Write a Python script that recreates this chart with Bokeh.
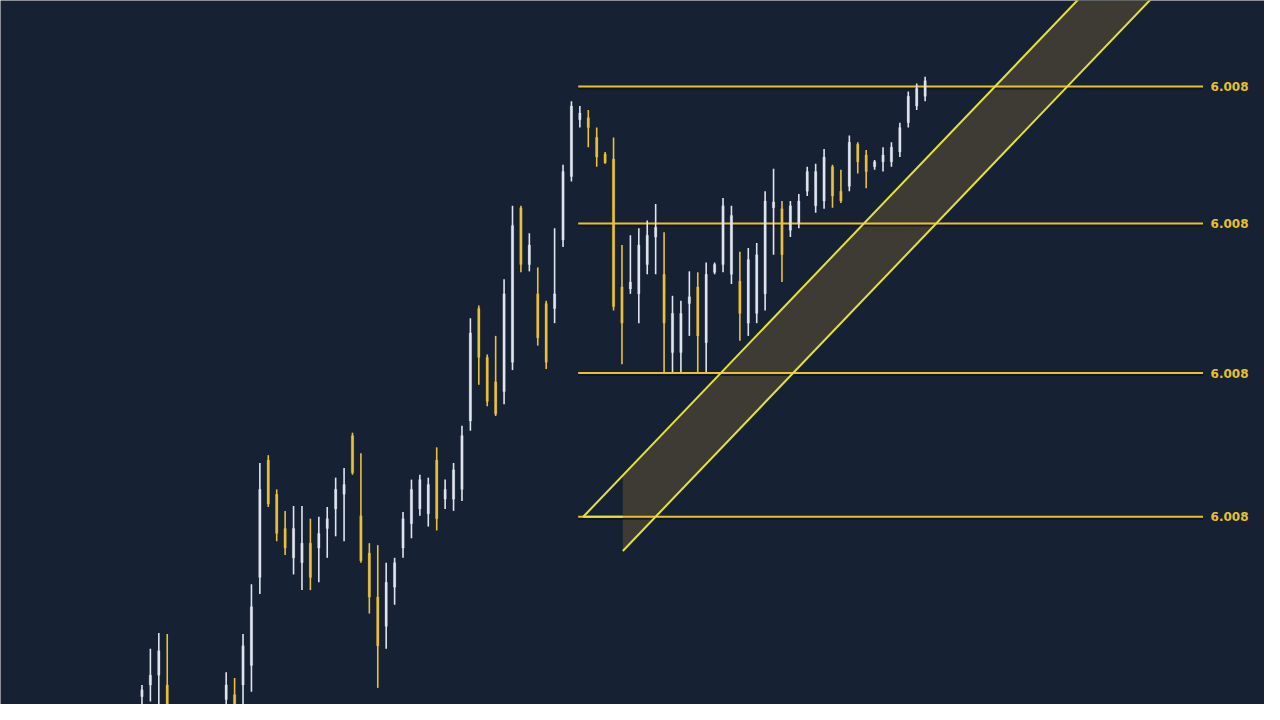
from bokeh.plotting import figure
from bokeh.models import Range1d, ColumnDataSource
from bokeh.embed import file_html
from bokeh.resources import INLINE
from bokeh.core.properties import value

# ---- data (price units, candle index = position in list) ----
opens = [0.88, 1.00, 1.10, 1.00, 0.60, 0.10, 0.45, 0.15, 0.30, 0.40,
         0.85, 0.90, 1.00, 1.20, 2.10, 3.30, 2.95, 2.60, 2.30, 2.25,
         2.45, 2.40, 2.60, 2.80, 2.95, 3.55, 2.73, 2.35, 1.90, 1.60,
         2.00, 2.40, 2.65, 2.80, 2.75, 3.30, 2.90, 2.90, 3.00, 3.70,
         4.85, 4.35, 4.10, 4.00, 4.30, 5.88, 5.30, 5.00, 4.90, 4.85,
         5.55, 6.20, 6.78, 6.80, 6.60, 6.43, 6.38, 5.07, 5.05, 5.00,
         5.30, 5.58, 5.20, 4.40, 4.40, 4.90, 5.07, 4.50, 5.22, 5.30,
         5.20, 5.13, 4.70, 4.80, 5.00, 5.88, 5.87, 5.65, 5.72, 6.05,
         5.90, 5.95, 6.30, 6.05, 6.10, 6.53, 6.42, 6.30, 6.35, 6.35,
         6.45, 6.75, 6.92, 7.02]
highs = [1.00, 1.37, 1.53, 1.52, 0.65, 0.55, 0.50, 0.60, 0.70, 0.75,
         1.13, 1.07, 1.52, 2.03, 3.27, 3.35, 3.00, 2.78, 2.83, 2.83,
         2.70, 2.72, 2.82, 3.12, 3.22, 3.58, 3.37, 2.45, 2.43, 2.25,
         2.30, 2.77, 3.10, 3.15, 3.12, 3.43, 3.10, 3.27, 3.65, 4.75,
         4.88, 4.38, 4.57, 5.15, 5.90, 5.90, 5.62, 5.27, 4.93, 5.67,
         6.32, 6.97, 6.92, 6.88, 6.70, 6.45, 6.60, 5.50, 5.60, 5.67,
         5.75, 5.92, 5.63, 4.98, 4.93, 5.23, 5.22, 5.32, 5.32, 5.98,
         5.90, 5.43, 5.47, 5.52, 6.05, 6.28, 5.95, 5.95, 6.02, 6.30,
         6.33, 6.48, 6.32, 6.27, 6.62, 6.55, 6.47, 6.37, 6.50, 6.55,
         6.75, 7.07, 7.15, 7.22]
lows = [0.75, 0.83, 0.75, 0.70, 0.10, 0.05, 0.05, 0.08, 0.20, 0.30,
        0.75, 0.75, 0.75, 0.93, 1.93, 2.82, 2.47, 2.33, 2.13, 1.97,
        1.97, 2.05, 2.30, 2.52, 2.47, 3.15, 2.25, 1.73, 0.97, 1.37,
        1.82, 2.30, 2.50, 2.73, 2.62, 2.58, 2.80, 2.78, 2.88, 3.60,
        4.07, 3.85, 3.75, 3.87, 4.22, 5.22, 5.23, 4.47, 4.23, 4.70,
        5.48, 6.15, 6.70, 6.50, 6.30, 6.33, 4.83, 4.28, 5.00, 4.70,
        5.20, 5.20, 4.20, 4.20, 4.20, 4.57, 4.20, 4.20, 5.20, 5.22,
        5.10, 4.52, 4.57, 4.70, 4.83, 5.40, 5.12, 5.58, 5.67, 6.00,
        5.83, 5.87, 5.88, 5.93, 6.05, 6.23, 6.08, 6.27, 6.25, 6.30,
        6.40, 6.70, 6.88, 6.97]
closes = [0.95, 1.10, 1.35, 0.75, 0.20, 0.45, 0.10, 0.55, 0.65, 0.72,
          1.00, 0.80, 1.40, 1.80, 3.00, 2.85, 2.55, 2.40, 2.60, 2.45,
          2.10, 2.55, 2.70, 3.00, 3.05, 3.17, 2.27, 1.90, 1.40, 2.05,
          2.25, 2.70, 3.00, 3.10, 3.05, 2.70, 3.00, 3.20, 3.55, 4.60,
          4.35, 3.90, 3.77, 5.00, 5.70, 5.30, 5.50, 4.55, 4.30, 5.00,
          6.25, 6.92, 6.85, 6.70, 6.40, 6.34, 4.87, 4.70, 5.12, 5.50,
          5.60, 5.68, 4.70, 4.80, 4.80, 4.97, 4.57, 5.20, 5.30, 5.90,
          5.80, 4.80, 5.35, 5.40, 5.95, 5.94, 5.40, 5.90, 5.95, 6.25,
          6.25, 6.40, 6.00, 5.95, 6.55, 6.35, 6.25, 6.35, 6.42, 6.50,
          6.70, 7.02, 7.10, 7.18]

level_prices = [7.12, 5.72, 4.19, 2.72]
level_labels = ["6.008", "6.008", "6.008", "6.008"]

# channel (two parallel lines): start index/price and common slope (price per candle)
channel_upper_start = (52.4, 2.72)
channel_lower_start = (57.1, 2.37)
channel_slope = 0.090
channel_top_price = 8.6

BG = "#172134"
WHITE = "#dfe5ee"
GOLD = "#e9c23a"
LEVEL = "#e6c22c"
CHAN = "#e3e23a"
FILL = "#3d3b33"

n = len(opens)
idx = list(range(n))
cols = [WHITE if c >= o else GOLD for o, c in zip(opens, closes)]
src = ColumnDataSource(dict(
    x=idx, o=opens, h=highs, l=lows, c=closes,
    top=[max(o, c) for o, c in zip(opens, closes)],
    bot=[min(o, c) for o, c in zip(opens, closes)],
    col=cols,
))

p = figure(width=1264, height=704, output_backend="svg", toolbar_location=None,
           x_range=Range1d(-16.8, 133.3), y_range=Range1d(0.8, 8.0),
           background_fill_color=BG, border_fill_color=BG, min_border=0)
p.outline_line_color = None
p.axis.visible = False
p.grid.visible = False

# channel fill
ux0, uy0 = channel_upper_start
lx0, ly0 = channel_lower_start
u_end = ux0 + (channel_top_price - uy0) / channel_slope
l_end = lx0 + (channel_top_price - ly0) / channel_slope
u_at_l = uy0 + (lx0 - ux0) * channel_slope
p.patch([lx0, u_end, l_end, lx0], [u_at_l, channel_top_price, channel_top_price, ly0],
        fill_color=FILL, fill_alpha=1.0, line_color=None)

# horizontal levels
lvl_x0, lvl_x1, lbl_x = 51.8, 126.0, 126.9
for lp in level_prices:
    p.line([lvl_x0, lvl_x1], [lp - 0.02, lp - 0.02], line_color="#0b0f18", line_width=2, line_alpha=0.7)
    p.line([lvl_x0, lvl_x1], [lp, lp], line_color=LEVEL, line_width=2)
p.text(x=[lbl_x] * len(level_prices), y=level_prices, text=level_labels,
       text_color=LEVEL, text_font=value("DejaVu Sans"), text_font_size="12px",
       text_font_style="bold", text_baseline="middle", text_align="left")

# channel lines
p.line([ux0, u_end], [uy0, channel_top_price], line_color=CHAN, line_width=2)
p.line([lx0, l_end], [ly0, channel_top_price], line_color=CHAN, line_width=2)
p.line([ux0, lx0], [uy0, uy0], line_color=CHAN, line_width=2)

# candles (thin wicks, narrow bodies)
p.segment(x0="x", y0="h", x1="x", y1="l", source=src, line_color="col", line_width=1.6)
p.vbar(x="x", top="top", bottom="bot", width=0.28, source=src,
       fill_color="col", line_color="col", line_width=0.3)

open("out.html", "w").write(file_html(p, INLINE))
